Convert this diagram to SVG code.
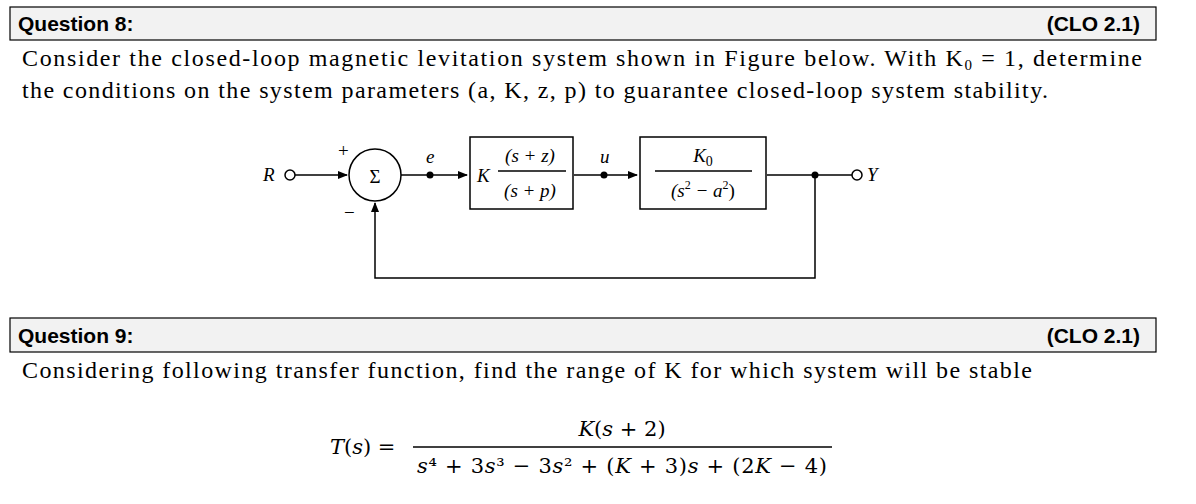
<svg xmlns="http://www.w3.org/2000/svg" width="1196" height="504" viewBox="0 0 1196 504">
<style>
.hdr{fill:#f2f2f2;stroke:#000;stroke-width:1.2}
.h{font-family:"Liberation Sans",Arial,sans-serif;font-weight:bold;font-size:21px}
.t{font-family:"Liberation Serif","Times New Roman",serif;font-size:24px}
.m{font-family:"Liberation Serif","Times New Roman",serif;font-size:19px;font-style:italic}
.mr{font-family:"Liberation Serif","Times New Roman",serif;font-size:19px}
.ln{stroke:#000;stroke-width:1.5;fill:none}
.f{font-family:"DejaVu Serif","Liberation Serif",serif;font-size:21px}
</style>
<defs><marker id="a" markerWidth="10" markerHeight="8" refX="9" refY="4" orient="auto" markerUnits="userSpaceOnUse"><path d="M0,0L10,4L0,8z"/></marker></defs>
<rect width="1196" height="504" fill="#fff"/>
<g id="q8">
<rect class="hdr" x="10" y="7" width="1146" height="33"/>
<text class="h" x="18" y="31">Question 8:</text>
<text class="h" x="1140" y="31" text-anchor="end">(CLO 2.1)</text>
<text class="t" x="22" y="66" textLength="1120">Consider the closed-loop magnetic levitation system shown in Figure below. With K<tspan font-size="15" dy="4">0</tspan><tspan dy="-4"> = 1, determine</tspan></text>
<text class="t" x="22" y="98" textLength="1026">the conditions on the system parameters (a, K, z, p) to guarantee closed-loop system stability.</text>
</g>
<g id="connectors">
<path class="ln" d="M295,175H347" marker-end="url(#a)"/>
<path class="ln" d="M401,175H467" marker-end="url(#a)"/>
<path class="ln" d="M574,175H637" marker-end="url(#a)"/>
<path class="ln" d="M767,175H852"/>
<path class="ln" d="M815,175V278H375V203" marker-end="url(#a)"/>
<circle cx="430" cy="175" r="3.5"/><circle cx="604" cy="175" r="3.5"/><circle cx="815" cy="175" r="3.5"/>
</g>
<g id="R"><text class="m" x="263" y="181">R</text><circle class="ln" cx="290" cy="175" r="5" fill="#fff"/></g>
<g id="sum"><circle class="ln" cx="375" cy="175" r="26"/><text class="mr" x="375" y="183" text-anchor="middle" font-size="22">Σ</text>
<text class="mr" x="338" y="157" font-size="17">+</text><text class="mr" x="344" y="219" font-size="17">−</text>
<text class="m" x="426" y="163">e</text><text class="m" x="600" y="163">u</text></g>
<g id="b1"><rect class="ln" x="470" y="137" width="103" height="72"/>
<text class="m" x="477" y="182">K</text>
<text class="m" x="530" y="162" text-anchor="middle">(s + z)</text>
<line class="ln" x1="498" y1="171" x2="566" y2="171" stroke-width="1"/>
<text class="m" x="530" y="197" text-anchor="middle">(s + p)</text></g>
<g id="b2"><rect class="ln" x="640" y="137" width="126" height="72"/>
<text class="m" x="703" y="162" text-anchor="middle">K<tspan font-style="normal" font-size="14" dy="4">0</tspan></text>
<line class="ln" x1="655" y1="171" x2="752" y2="171" stroke-width="1"/>
<text class="m" x="703" y="197" text-anchor="middle">(s<tspan font-style="normal" font-size="12" dy="-8">2</tspan><tspan dy="8"> − a</tspan><tspan font-style="normal" font-size="12" dy="-8">2</tspan><tspan font-style="normal" dy="8">)</tspan></text></g>
<g id="Y"><circle class="ln" cx="857" cy="175" r="5" fill="#fff"/><text class="m" x="867" y="181">Y</text></g>
<g id="q9">
<rect class="hdr" x="10" y="318" width="1146" height="34"/>
<text class="h" x="18" y="343">Question 9:</text>
<text class="h" x="1140" y="343" text-anchor="end">(CLO 2.1)</text>
<text class="t" x="22" y="378" textLength="1010">Considering following transfer function, find the range of K for which system will be stable</text>
<text class="f" x="330" y="454"><tspan font-style="italic">T</tspan>(<tspan font-style="italic">s</tspan>) =</text>
<text class="f" x="622" y="436" text-anchor="middle"><tspan font-style="italic">K</tspan>(<tspan font-style="italic">s</tspan> + 2)</text>
<line x1="413" y1="447" x2="832" y2="447" stroke="#000" stroke-width="1.3"/>
<text class="f" x="622" y="473" text-anchor="middle" textLength="410"><tspan font-style="italic">s</tspan>⁴ + 3<tspan font-style="italic">s</tspan>³ − 3<tspan font-style="italic">s</tspan>² + (<tspan font-style="italic">K</tspan> + 3)<tspan font-style="italic">s</tspan> + (2<tspan font-style="italic">K</tspan> − 4)</text>
</g>
</svg>
